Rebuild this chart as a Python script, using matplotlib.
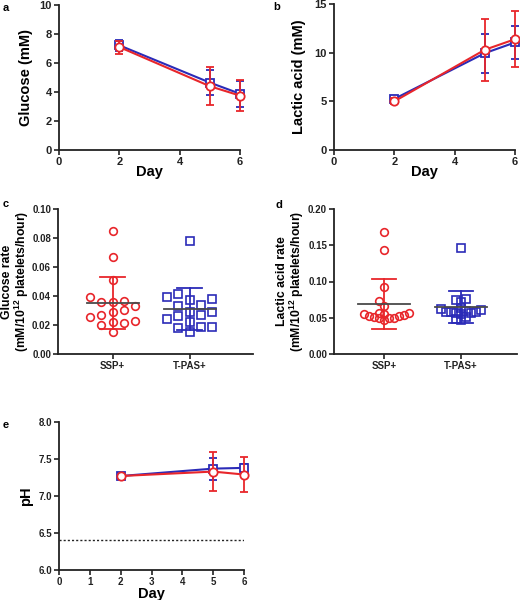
import matplotlib
matplotlib.use('Agg')
import matplotlib.pyplot as plt
import numpy as np

plt.rcParams['font.family'] = ['Liberation Sans', 'DejaVu Sans']
plt.rcParams['font.weight'] = 'bold'
plt.rcParams['axes.labelweight'] = 'bold'
plt.rcParams['mathtext.fontset'] = 'custom'
plt.rcParams['mathtext.rm'] = 'Liberation Sans:bold'
plt.rcParams['mathtext.bf'] = 'Liberation Sans:bold'
plt.rcParams['mathtext.it'] = 'Liberation Sans:bold'
plt.rcParams['mathtext.default'] = 'bf'

RED = '#e8262b'
BLUE = '#2b2bb8'
GRAY = '#4a4a4a'
AXC = '#222222'

# ---------------- data ----------------
days = [2, 5, 6]
# Glucose (mM)
glu_ssp_mean = [7.10, 4.40, 3.75]
glu_ssp_sd = [0.45, 1.30, 1.05]
glu_tpas_mean = [7.22, 4.65, 3.88]
glu_tpas_sd = [0.40, 0.87, 0.88]
# Lactic acid (mM)
lac_ssp_mean = [5.00, 10.30, 11.38]
lac_ssp_sd = [0.30, 3.20, 2.90]
lac_tpas_mean = [5.25, 9.95, 11.05]
lac_tpas_sd = [0.25, 2.00, 1.72]
# pH
ph_ssp_mean = [7.27, 7.33, 7.29]
ph_ssp_sd = [0.02, 0.26, 0.24]
ph_tpas_mean = [7.27, 7.37, 7.38]
ph_tpas_sd = [0.02, 0.15, 0.05]
ph_limit = 6.4

groups = ['SSP+', 'T-PAS+']
glu_rate_ssp = [0.085, 0.067, 0.051, 0.0357, 0.0368, 0.039, 0.0357, 0.0303,
                0.0331, 0.029, 0.0269, 0.0216, 0.023, 0.0257, 0.0218, 0.020, 0.0154]
glu_rate_tpas = [0.078, 0.0417, 0.0372, 0.039, 0.0378, 0.0335, 0.033, 0.0289,
                 0.0289, 0.0268, 0.026, 0.0222, 0.024, 0.0188, 0.0186, 0.0181, 0.0149]
lac_rate_ssp = [0.168, 0.144, 0.092, 0.073, 0.066, 0.051, 0.055, 0.053, 0.054,
                0.056, 0.055, 0.057, 0.047, 0.049, 0.050, 0.050, 0.052]
lac_rate_tpas = [0.146, 0.076, 0.072, 0.064, 0.075, 0.062, 0.058, 0.058, 0.061,
                 0.056, 0.059, 0.056, 0.058, 0.051, 0.055, 0.047, 0.048]

W, H = 520, 600
fig = plt.figure(figsize=(W / 100, H / 100), dpi=100)


def axes_px(left, top, right, bottom):
    return fig.add_axes([left / W, 1 - bottom / H, (right - left) / W, (bottom - top) / H])


def style(ax, tsize=8):
    for s in ['top', 'right']:
        ax.spines[s].set_visible(False)
    for s in ['left', 'bottom']:
        ax.spines[s].set_linewidth(1.3)
        ax.spines[s].set_color(AXC)
    ax.tick_params(direction='out', length=3.5, width=1.2, labelsize=tsize,
                   colors=AXC, pad=1.5)
    for lab in ax.get_xticklabels() + ax.get_yticklabels():
        lab.set_fontweight('bold')


def day_label(ax, height_px, below_px=22):
    ax.set_xlabel('Day', fontsize=10.5, fontweight='bold')
    ax.xaxis.set_label_coords(0.5, -below_px / height_px)
    ax.xaxis.label.set_va('center')


def line_panel(ax, ssp_m, ssp_s, tpas_m, tpas_s):
    ax.errorbar(days, tpas_m, yerr=tpas_s, color=BLUE, marker='s', ms=5.5,
                mfc='white', mec=BLUE, mew=1.3, lw=1.5, elinewidth=1.3,
                capsize=3, capthick=1.3, clip_on=False, zorder=3)
    ax.errorbar(days, ssp_m, yerr=ssp_s, color=RED, marker='o', ms=6,
                mfc='white', mec=RED, mew=1.3, lw=1.5, elinewidth=1.3,
                capsize=3, capthick=1.3, clip_on=False, zorder=4)


# ---- a ----
ax = axes_px(59, 5, 240, 150)
line_panel(ax, glu_ssp_mean, glu_ssp_sd, glu_tpas_mean, glu_tpas_sd)
ax.set_xlim(0, 6)
ax.set_ylim(0, 10)
ax.set_xticks([0, 2, 4, 6])
ax.set_yticks([0, 2, 4, 6, 8, 10])
day_label(ax, 145)
ax.set_ylabel('Glucose (mM)', fontsize=10.5, fontweight='bold', labelpad=5)
style(ax)

# ---- b ----
ax = axes_px(334, 4, 515, 150)
line_panel(ax, lac_ssp_mean, lac_ssp_sd, lac_tpas_mean, lac_tpas_sd)
ax.set_xlim(0, 6)
ax.set_ylim(0, 15)
ax.set_xticks([0, 2, 4, 6])
ax.set_yticks([0, 5, 10, 15])
day_label(ax, 146)
ax.set_ylabel('Lactic acid (mM)', fontsize=10.5, fontweight='bold', labelpad=6)
style(ax)


def swarm_x(ax, xc, vals, step_px, gap_px):
    vals = np.asarray(vals, float)
    pts = ax.transData.transform(np.column_stack([np.full(len(vals), xc), vals]))
    ys = pts[:, 1]
    order = np.argsort(ys)
    placed = []
    cols = np.zeros(len(vals))
    for i in order:
        for k in [0, -1, 1, 2, -2, 3, -3, 4, -4, 5, -5, 6, -6]:
            if all(not (c == k and abs(ys[i] - y) < gap_px) for c, y in placed):
                cols[i] = k
                placed.append((k, ys[i]))
                break
    u = ax.transData.transform([[0, 0], [1, 0]])
    ppu = u[1, 0] - u[0, 0]
    return xc + cols * step_px / ppu


def scatter_panel(ax, ssp, tpas, step_px, gap_px, ms):
    for xc, vals, col, mk in [(1, ssp, RED, 'o'), (2, tpas, BLUE, 's')]:
        vals = np.asarray(vals)
        xs = swarm_x(ax, xc, vals, step_px, gap_px)
        m = vals.mean()
        sd = vals.std(ddof=1)
        ax.plot(xs, vals, linestyle='none', marker=mk, ms=ms, mfc='none',
                mec=col, mew=1.2, zorder=3)
        ax.plot([xc - 0.34, xc + 0.34], [m, m], color=GRAY, lw=1.3, zorder=4)
        ax.plot([xc, xc], [m - sd, m + sd], color=col, lw=1.3, zorder=2)
        for yy in (m - sd, m + sd):
            ax.plot([xc - 0.16, xc + 0.16], [yy, yy], color=col, lw=1.3, zorder=2)
    ax.set_xticks([1, 2])
    ax.set_xticklabels(groups)


# ---- c ----
ax = axes_px(58, 209, 253, 354)
ax.set_xlim(0.29, 2.82)
ax.set_ylim(0, 0.10)
scatter_panel(ax, glu_rate_ssp, glu_rate_tpas, 11.3, 9.0, 5.5)
ax.set_yticks([0, 0.02, 0.04, 0.06, 0.08, 0.10])
ax.set_yticklabels(['0.00', '0.02', '0.04', '0.06', '0.08', '0.10'])
ax.set_ylabel('Glucose rate\n(mM/10$^{12}$ platelets/hour)', fontsize=8.8,
              fontweight='bold', linespacing=0.95)
ax.yaxis.set_label_coords(-27 / 195, 0.5)
style(ax, 7)

# ---- d ----
ax = axes_px(334, 209, 517, 354)
ax.set_xlim(0.35, 2.73)
ax.set_ylim(0, 0.20)
scatter_panel(ax, lac_rate_ssp, lac_rate_tpas, 5.0, 5.5, 5.5)
ax.set_yticks([0, 0.05, 0.10, 0.15, 0.20])
ax.set_yticklabels(['0.00', '0.05', '0.10', '0.15', '0.20'])
ax.set_ylabel('Lactic acid rate\n(mM/10$^{12}$ platelets/hour)', fontsize=8.8,
              fontweight='bold', linespacing=0.95)
ax.yaxis.set_label_coords(-28 / 183, 0.5)
style(ax, 7)

# ---- e ----
ax = axes_px(59, 422, 244, 570)
line_panel(ax, ph_ssp_mean, ph_ssp_sd, ph_tpas_mean, ph_tpas_sd)
ax.plot([0, 6], [ph_limit, ph_limit], color=AXC, lw=1.0, ls=(0, (1.5, 1.5)))
ax.set_xlim(0, 6)
ax.set_ylim(6.0, 8.0)
ax.set_xticks([0, 1, 2, 3, 4, 5, 6])
ax.set_yticks([6.0, 6.5, 7.0, 7.5, 8.0])
ax.set_yticklabels(['6.0', '6.5', '7.0', '7.5', '8.0'])
day_label(ax, 148, 24)
ax.set_ylabel('pH', fontsize=10.5, fontweight='bold', labelpad=4)
style(ax, 7)

# panel letters
for lab, x, y in [('a', 3, 8), ('b', 273, 7), ('c', 3, 204), ('d', 275, 205), ('e', 3, 425)]:
    fig.text(x / W, 1 - y / H, lab, fontsize=8, fontweight='bold', va='center', ha='left')

fig.savefig('out.png', dpi=100)
